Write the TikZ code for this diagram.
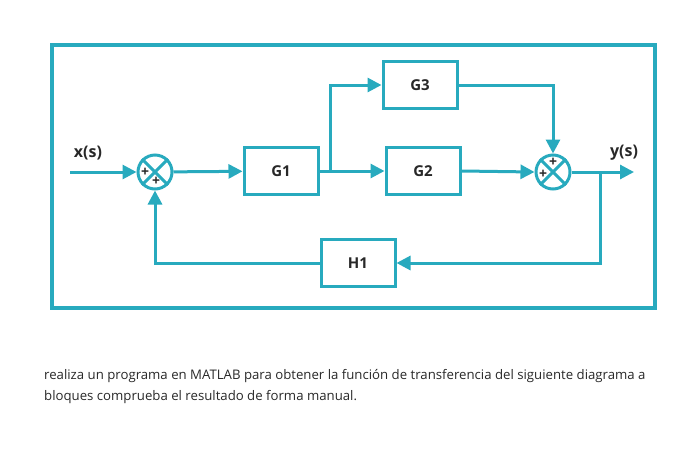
\documentclass[tikz,border=0pt]{standalone}
\usepackage{fontspec}
\setmainfont{Open Sans}
\usetikzlibrary{arrows.meta}
\definecolor{tl}{RGB}{40,170,190}
\definecolor{tx}{RGB}{40,40,40}
\begin{document}
\begin{tikzpicture}[x=1pt,y=-1pt,
  blk/.style={draw=tl,line width=3pt,minimum width=74pt,minimum height=47pt,inner sep=0pt,font=\bfseries\fontsize{15}{18}\selectfont,text=tx},
  sumj/.style={draw=tl,line width=3pt,circle,minimum size=34pt,inner sep=0pt},
  ln/.style={draw=tl,line width=3pt},
  ar/.style={ln,-{Triangle[length=14pt,width=14pt]}},
  pl/.style={font=\bfseries\fontsize{14}{14}\selectfont,text=tx,inner sep=0pt}]
\useasboundingbox (0,0) rectangle (700,472);
\draw[tl,line width=4pt] (52,45) rectangle (655,308);
\node[sumj] (s1) at (155,172) {};
\draw[ln] (s1.north west)--(s1.south east) (s1.north east)--(s1.south west);
\node[pl] at (145,172) {+}; \node[pl] at (156,181) {+};
\node[sumj] (s2) at (553,172) {};
\draw[ln] (s2.north west)--(s2.south east) (s2.north east)--(s2.south west);
\node[pl] at (543,174) {+}; \node[pl] at (553,162) {+};
\node[blk] (g1) at (281,171) {G1};
\node[blk] (g2) at (423,171) {G2};
\node[blk] (g3) at (420,85) {G3};
\node[blk] (h1) at (358,263) {H1};
\coordinate (xin) at (70,172);
\coordinate (yout) at (634,172);
\coordinate (br) at (330,172);
\coordinate (fb) at (600,172);
\node[font=\bfseries\fontsize{16}{18}\selectfont,text=tx] at (88,153) {x(s)};
\node[font=\bfseries\fontsize{16}{18}\selectfont,text=tx] at (624,153) {y(s)};
\draw[ar] (xin)--(s1);
\draw[ar] (s1)--(g1);
\draw[ar] (g1.east)--(g2.west);
\draw[ar] (br)|-(g3.west);
\draw[ar] (g3.east)-|(s2.north);
\draw[ar] (g2.east)--(s2.west);
\draw[ar] (s2.east)--(yout);
\draw[ar] (fb)|-(h1.east);
\draw[ar] (h1.west)-|(s1.south);
\node[anchor=west,inner sep=0pt,font=\fontsize{13.2}{21}\selectfont,text=tx,align=left] (cap) at (44,387) {realiza un programa en MATLAB para obtener la función de transferencia del siguiente diagrama a\\bloques comprueba el resultado de forma manual.};
\end{tikzpicture}
\end{document}
